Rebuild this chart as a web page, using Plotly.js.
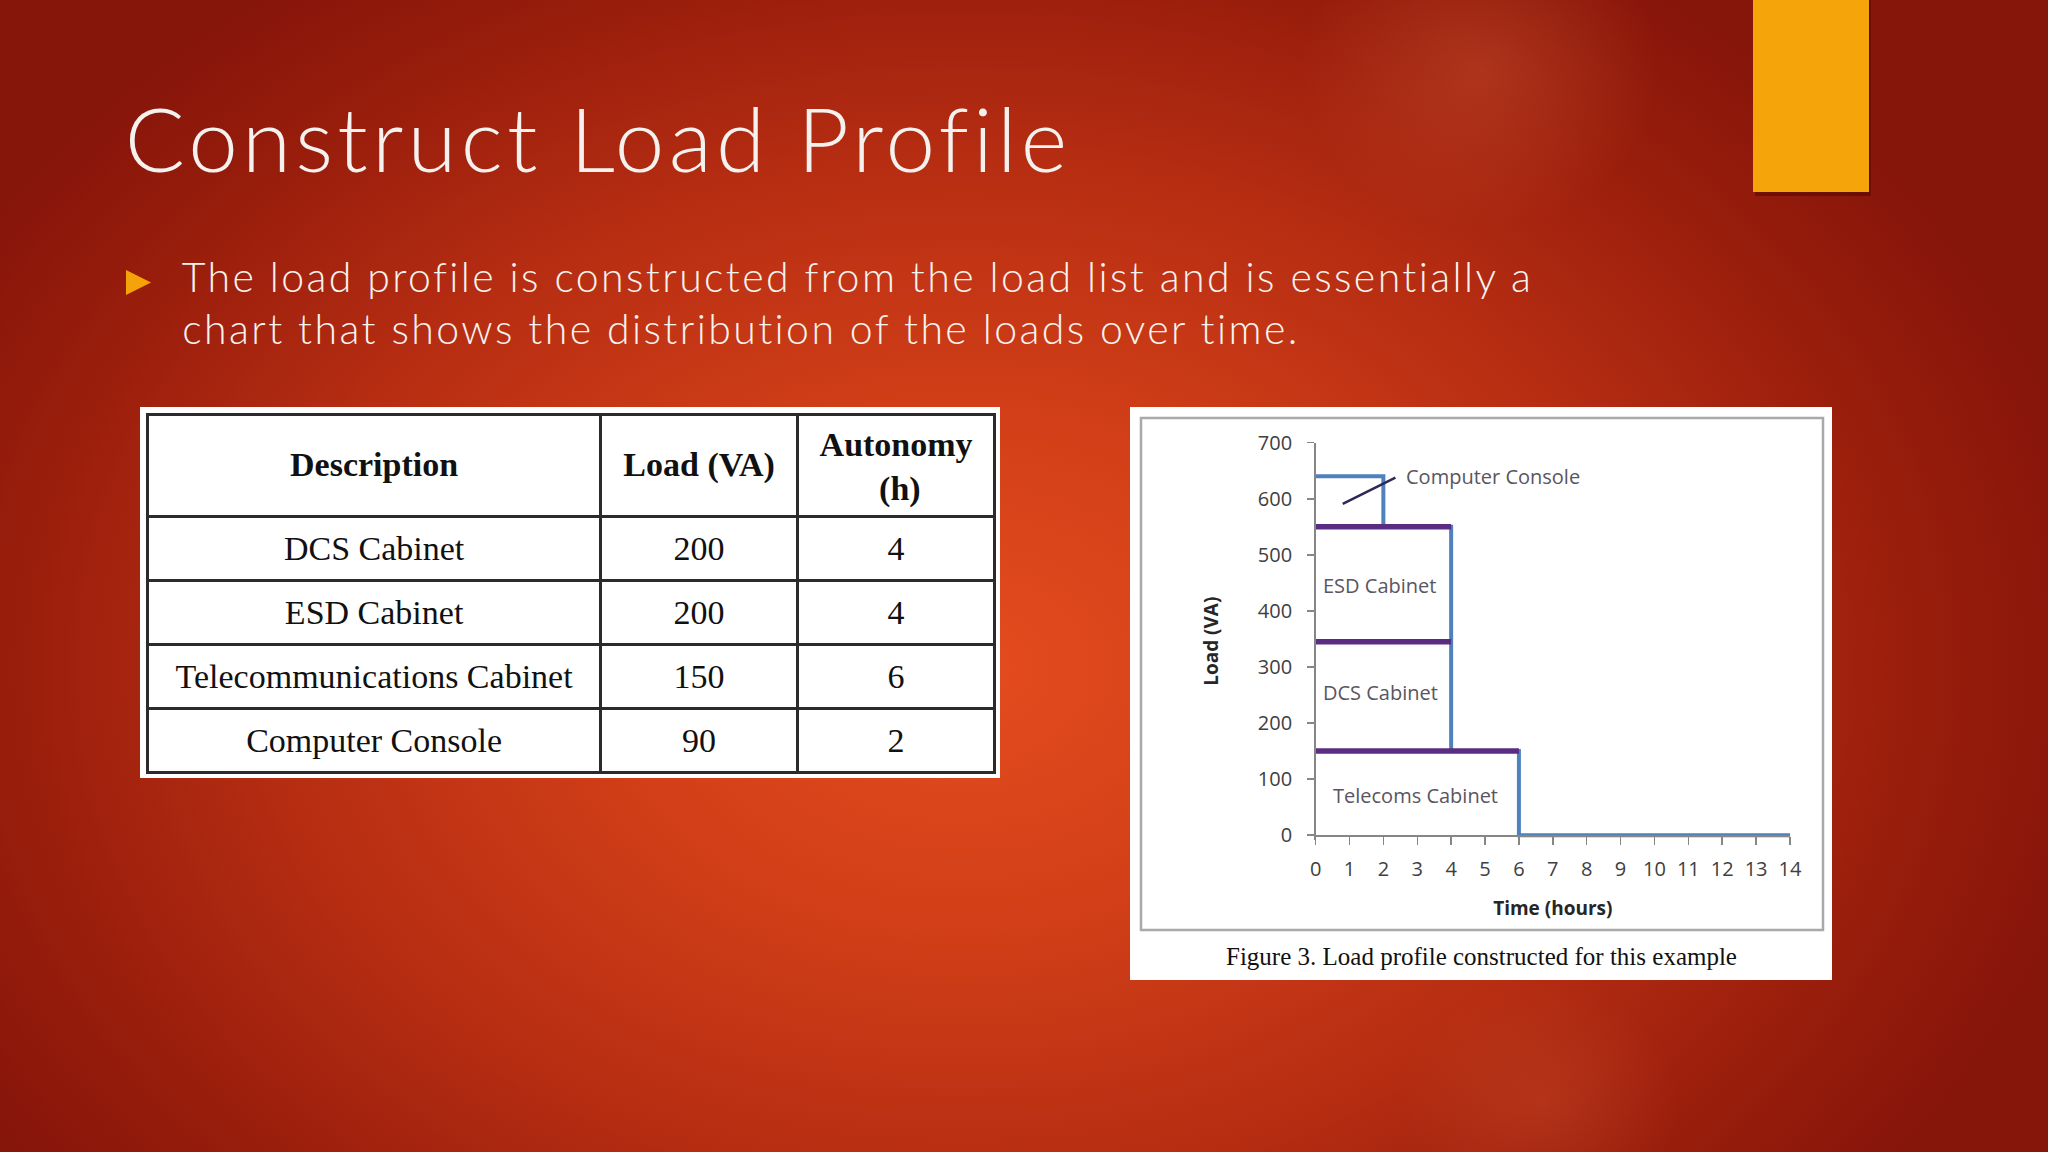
<!DOCTYPE html>
<html>
<head>
<meta charset="utf-8">
<script src="https://cdn.plot.ly/plotly-3.0.1.min.js"></script>
<style>
  html, body { margin:0; padding:0; width:2048px; height:1152px; overflow:hidden; }
  body {
    background:
      radial-gradient(ellipse 180px 160px at 1480px 70px, rgba(215,95,55,0.35), rgba(215,95,55,0) 100%),
      radial-gradient(ellipse 140px 120px at 1540px 1100px, rgba(215,95,55,0.25), rgba(215,95,55,0) 100%),
      radial-gradient(ellipse 1150px 850px at 47% 58%, #E44C1E 0%, #D23F18 30%, #B62D12 60%, #9A1E0C 82%, #86150A 100%);
  }
  #slide { width:2048px; height:1152px; }
  .annotation[data-index="0"] .annotation-text { letter-spacing: 4.2px; }
  .annotation[data-index="1"] .annotation-text,
  .annotation[data-index="2"] .annotation-text { letter-spacing: 2.4px; }
</style>
</head>
<body>
<div id="slide"></div>
<script>
// ---------- table data ----------
const tableHeaders = ['Description', 'Load (VA)', 'Autonomy', '(h)'];
const descriptions = ['DCS Cabinet', 'ESD Cabinet', 'Telecommunications Cabinet', 'Computer Console'];
const loadsVA = [200, 200, 150, 90];
const autonomyH = [4, 4, 6, 2];

// ---------- chart data ----------
const profileTime = [0, 2, 2, 4, 4, 6, 6, 14];
const profileLoad = [640, 640, 550, 550, 150, 150, 0, 0];
const levelNames = ['ESD top', 'DCS top', 'Telecoms top'];
const levelLoads = [550, 345, 150];
const levelEnds = [4, 4, 6];
const regionLabels = ['ESD Cabinet', 'DCS Cabinet', 'Telecoms Cabinet'];
const calloutLabel = 'Computer Console';
const xTicks = [0,1,2,3,4,5,6,7,8,9,10,11,12,13,14];
const yTicks = [0,100,200,300,400,500,600,700];

// ---------- slide text ----------
const slideTitle = 'Construct Load Profile';
const bulletLines = ['The load profile is constructed from the load list and is essentially a',
                     'chart that shows the distribution of the loads over time.'];
const caption = 'Figure 3. Load profile constructed for this example';

// ---------- helpers: pixel -> paper ----------
const W = 2048, H = 1152;
const px = v => v / W;
const py = v => 1 - v / H;

const BLUE = '#4f81bd';
const PURPLE = '#5b2d82';
const serif = 'Liberation Serif, Times New Roman, serif';
const sans = 'Open Sans, DejaVu Sans, sans-serif';
const slideFont = 'Lato, Open Sans, sans-serif';
const TFS = 34;
const NB = '\u00A0';
// letter-spacing (set in CSS) widens text symmetrically about its centre; compensate left anchor
const TITLE_LS = 4.2, BODY_LS = 2.4;
const leftX = (left, text, ls) => px(left + ls * text.length / 2);

const traces = [];

// Table grid (cells + borders)
const tableX = [px(147.6), px(995)];
const tableTop = 414, tableBottom = 774;
const colW = [453, 197, 197];
const blankCols = [descriptions, loadsVA, autonomyH].map(c => c.map(() => ''));
const clear = { fill: { color: 'rgba(0,0,0,0)' }, line: { color: 'rgba(0,0,0,0)', width: 0 } };
traces.push({
  type: 'table',
  domain: { x: tableX, y: [py(tableBottom), py(tableTop)] },
  columnwidth: colW,
  header: { values: ['', '', ''], height: 102, fill: { color: 'white' },
            line: { color: '#2b2b2b', width: 3 }, font: { size: TFS, family: serif } },
  cells: { values: blankCols, height: 64, fill: { color: 'white' },
           line: { color: '#2b2b2b', width: 3 }, font: { size: TFS, family: serif } }
});
// Table body text
const bodyShift = 10;
traces.push({
  type: 'table',
  domain: { x: tableX, y: [py(tableBottom + bodyShift), py(tableTop + bodyShift)] },
  columnwidth: colW,
  header: Object.assign({ values: ['', '', ''], height: 102 }, clear),
  cells: Object.assign({ values: [descriptions, loadsVA, autonomyH], height: 64, align: 'center',
           font: { size: TFS, family: serif, color: '#111' } }, clear)
});
// Table single-line header text
const headShift = 24;
traces.push({
  type: 'table',
  domain: { x: tableX, y: [py(tableBottom + headShift), py(tableTop + headShift)] },
  columnwidth: colW,
  header: Object.assign({ values: ['<b>' + tableHeaders[0] + '</b>', '<b>' + tableHeaders[1] + '</b>', ''],
            height: 102, align: 'center', font: { size: TFS, family: serif, color: '#111' } }, clear)
});
// Table two-line header text
const head2Shift = 4;
traces.push({
  type: 'table',
  domain: { x: tableX, y: [py(tableBottom + head2Shift), py(tableTop + head2Shift)] },
  columnwidth: colW,
  header: Object.assign({ values: ['', '', '<b>' + tableHeaders[2] + '<br>' + NB.repeat(7) + tableHeaders[3] + '</b>'],
            height: 102, align: 'center', font: { size: TFS, family: serif, color: '#111' } }, clear)
});

// Profile step line (blue)
traces.push({
  type: 'scatter', mode: 'lines', name: 'Load profile',
  x: profileTime, y: profileLoad,
  line: { color: BLUE, width: 4 }, hoverinfo: 'skip', showlegend: false
});
// Level lines (purple), drawn over the blue profile
levelLoads.forEach((lv, i) => {
  traces.push({
    type: 'scatter', mode: 'lines', name: levelNames[i],
    x: [0, levelEnds[i]], y: [lv, lv],
    line: { color: PURPLE, width: 5.5 }, hoverinfo: 'skip', showlegend: false
  });
});

// Plot area in pixels
const x0px = 1315.6, x14px = 1790, y0px = 835.2, y700px = 442.7;
const yLow = -8;
const pxPerUnitY = (y0px - y700px) / 700;
const yBottomPx = y0px - yLow * pxPerUnitY;

const regionPos = [[1.88, 446], [1.91, 254], [2.94, 70]];

const annotations = [
  { xref: 'paper', yref: 'paper', x: leftX(124, slideTitle, TITLE_LS), y: py(137), xanchor: 'left', yanchor: 'middle',
    text: slideTitle, showarrow: false,
    font: { family: slideFont, size: 89, color: '#f4f1ee', weight: 300 } },
  { xref: 'paper', yref: 'paper', x: leftX(180, bulletLines[0], BODY_LS), y: py(277), xanchor: 'left', yanchor: 'middle',
    text: bulletLines[0], showarrow: false,
    font: { family: slideFont, size: 41, color: '#f7f3ef', weight: 300 } },
  { xref: 'paper', yref: 'paper', x: leftX(180, bulletLines[1], BODY_LS), y: py(328), xanchor: 'left', yanchor: 'middle',
    text: bulletLines[1], showarrow: false,
    font: { family: slideFont, size: 41, color: '#f7f3ef', weight: 300 } },
  { xref: 'paper', yref: 'paper', x: px(1481), y: py(956), xanchor: 'center', yanchor: 'middle',
    text: caption, showarrow: false,
    font: { family: serif, size: 25, color: '#111' } },
  { xref: 'x', yref: 'y', x: 2.62, y: 639, xanchor: 'left', yanchor: 'middle',
    text: calloutLabel, showarrow: false, font: { family: sans, size: 20, color: '#5a5560' } },
  { xref: 'x', yref: 'y', x: 0.8, y: 591, ax: 2.4, ay: 639, axref: 'x', ayref: 'y',
    text: '', showarrow: true, arrowhead: 0, arrowwidth: 2.5, arrowcolor: '#2d2a55', standoff: 0, startstandoff: 0 }
];
regionLabels.forEach((t, i) => {
  annotations.push({ xref: 'x', yref: 'y', x: regionPos[i][0], y: regionPos[i][1],
    xanchor: 'center', yanchor: 'middle', text: t, showarrow: false,
    font: { family: sans, size: 20, color: '#5a5560' } });
});

const shapes = [
  { type: 'rect', xref: 'paper', yref: 'paper', layer: 'below',
    x0: px(1130), x1: px(1832), y0: py(980), y1: py(407),
    fillcolor: 'white', line: { width: 0 } },
  { type: 'rect', xref: 'paper', yref: 'paper', layer: 'below',
    x0: px(1141), x1: px(1823), y0: py(930), y1: py(418),
    fillcolor: 'rgba(0,0,0,0)', line: { color: '#a9a9a9', width: 2.5 } },
  { type: 'rect', xref: 'paper', yref: 'paper', layer: 'below',
    x0: px(140), x1: px(1000), y0: py(778), y1: py(407),
    fillcolor: 'white', line: { width: 0 } },
  { type: 'rect', xref: 'paper', yref: 'paper', layer: 'below',
    x0: px(1755), x1: px(1871), y0: py(196), y1: py(-2),
    fillcolor: 'rgba(80,8,0,0.55)', line: { width: 0 } },
  { type: 'rect', xref: 'paper', yref: 'paper', layer: 'below',
    x0: px(1753), x1: px(1869), y0: py(192), y1: py(-2),
    fillcolor: '#f5a50a', line: { width: 0 } },
  { type: 'path', xref: 'paper', yref: 'paper', layer: 'above',
    path: 'M ' + px(126) + ' ' + py(270) + ' L ' + px(151) + ' ' + py(282.5) + ' L ' + px(126) + ' ' + py(295) + ' Z',
    fillcolor: '#f5a30a', line: { width: 0 } }
];

const axisGray = '#868686';
const layout = {
  width: W, height: H,
  margin: { l: 0, r: 0, t: 0, b: 0 },
  paper_bgcolor: 'rgba(0,0,0,0)',
  plot_bgcolor: 'rgba(0,0,0,0)',
  showlegend: false,
  xaxis: {
    domain: [px(x0px), px(x14px)],
    range: [0, 14], tickvals: xTicks, ticks: 'outside', ticklen: 8, tickwidth: 1.5, tickcolor: axisGray,
    showline: true, linecolor: axisGray, linewidth: 1.5, showgrid: false, zeroline: false,
    anchor: 'free', position: py(y0px),
    tickfont: { family: sans, size: 20, color: '#404040' }, ticklabelstandoff: 7,
    title: { text: '<b>Time (hours)</b>', font: { family: sans, size: 19, color: '#262626' }, standoff: 21 },
    fixedrange: true
  },
  yaxis: {
    domain: [py(yBottomPx), py(y700px)],
    range: [yLow, 700], tickvals: yTicks, ticks: 'outside', ticklen: 7, tickwidth: 1.5, tickcolor: axisGray,
    showline: true, linecolor: axisGray, linewidth: 1.5, showgrid: false, zeroline: false,
    tickfont: { family: sans, size: 20, color: '#404040' }, ticklabelstandoff: 11,
    title: { text: '<b>Load (VA)</b>', font: { family: sans, size: 19, color: '#262626' }, standoff: 34 },
    fixedrange: true
  },
  annotations: annotations,
  shapes: shapes
};

Plotly.newPlot('slide', traces, layout, { displayModeBar: false, staticPlot: true });
</script>
</body>
</html>
